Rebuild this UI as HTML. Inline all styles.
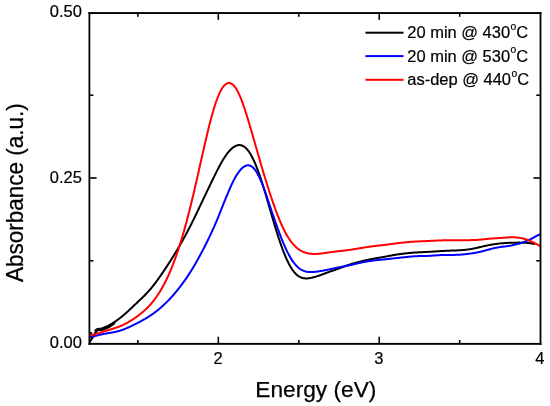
<!DOCTYPE html><html><head><meta charset="utf-8"><style>html,body{margin:0;padding:0;background:#fff;width:550px;height:406px;overflow:hidden}svg{display:block}</style></head><body><svg width="550" height="406" viewBox="0 0 550 406"><clipPath id="c"><rect x="89" y="12" width="453" height="333"/></clipPath><g clip-path="url(#c)" fill="none" stroke-width="2.00" stroke-linejoin="round" stroke-linecap="round"><path stroke="#000000" d="M98.00,329.88 L98.50,329.69 L99.00,329.51 L99.50,329.33 L100.00,329.14 L100.50,328.96 L101.00,328.77 L101.50,328.59 L102.00,328.40 L102.50,328.21 L103.00,328.02 L103.50,327.82 L104.00,327.62 L104.50,327.42 L105.00,327.21 L105.50,326.99 L106.00,326.77 L106.50,326.55 L107.00,326.31 L107.50,326.08 L108.00,325.83 L108.50,325.58 L109.00,325.32 L109.50,325.05 L110.00,324.78 L110.50,324.50 L111.00,324.21 L111.50,323.92 L112.00,323.62 L112.50,323.31 L113.00,323.00 L113.50,322.68 L114.00,322.35 L114.50,322.02 L115.00,321.69 L115.50,321.35 L116.00,321.00 L116.50,320.65 L117.00,320.29 L117.50,319.93 L118.00,319.56 L118.50,319.19 L119.00,318.81 L119.50,318.43 L120.00,318.04 L120.50,317.65 L121.00,317.25 L121.50,316.85 L122.00,316.44 L122.50,316.03 L123.00,315.61 L123.50,315.19 L124.00,314.76 L124.50,314.33 L125.00,313.89 L125.50,313.45 L126.00,313.01 L126.50,312.56 L127.00,312.11 L127.50,311.65 L128.00,311.19 L128.50,310.73 L129.00,310.27 L129.50,309.81 L130.00,309.34 L130.50,308.87 L131.00,308.41 L131.50,307.94 L132.00,307.47 L132.50,306.99 L133.00,306.52 L133.50,306.05 L134.00,305.57 L134.50,305.10 L135.00,304.63 L135.50,304.15 L136.00,303.68 L136.50,303.20 L137.00,302.72 L137.50,302.25 L138.00,301.77 L138.50,301.30 L139.00,300.82 L139.50,300.34 L140.00,299.86 L140.50,299.39 L141.00,298.91 L141.50,298.42 L142.00,297.94 L142.50,297.45 L143.00,296.96 L143.50,296.47 L144.00,295.97 L144.50,295.47 L145.00,294.97 L145.50,294.45 L146.00,293.94 L146.50,293.41 L147.00,292.88 L147.50,292.35 L148.00,291.80 L148.50,291.26 L149.00,290.70 L149.50,290.13 L150.00,289.56 L150.50,288.98 L151.00,288.39 L151.50,287.80 L152.00,287.20 L152.50,286.58 L153.00,285.96 L153.50,285.34 L154.00,284.70 L154.50,284.06 L155.00,283.40 L155.50,282.74 L156.00,282.08 L156.50,281.40 L157.00,280.72 L157.50,280.03 L158.00,279.33 L158.50,278.63 L159.00,277.92 L159.50,277.21 L160.00,276.49 L160.50,275.77 L161.00,275.05 L161.50,274.32 L162.00,273.59 L162.50,272.86 L163.00,272.13 L163.50,271.39 L164.00,270.65 L164.50,269.91 L165.00,269.16 L165.50,268.42 L166.00,267.66 L166.50,266.91 L167.00,266.15 L167.50,265.38 L168.00,264.62 L168.50,263.85 L169.00,263.07 L169.50,262.29 L170.00,261.51 L170.50,260.73 L171.00,259.94 L171.50,259.14 L172.00,258.34 L172.50,257.54 L173.00,256.73 L173.50,255.92 L174.00,255.11 L174.50,254.29 L175.00,253.47 L175.50,252.64 L176.00,251.81 L176.50,250.98 L177.00,250.14 L177.50,249.29 L178.00,248.45 L178.50,247.60 L179.00,246.74 L179.50,245.88 L180.00,245.02 L180.50,244.16 L181.00,243.28 L181.50,242.41 L182.00,241.53 L182.50,240.64 L183.00,239.75 L183.50,238.86 L184.00,237.96 L184.50,237.05 L185.00,236.14 L185.50,235.22 L186.00,234.30 L186.50,233.37 L187.00,232.43 L187.50,231.48 L188.00,230.53 L188.50,229.57 L189.00,228.60 L189.50,227.63 L190.00,226.65 L190.50,225.67 L191.00,224.68 L191.50,223.68 L192.00,222.67 L192.50,221.67 L193.00,220.65 L193.50,219.64 L194.00,218.61 L194.50,217.59 L195.00,216.56 L195.50,215.53 L196.00,214.49 L196.50,213.45 L197.00,212.41 L197.50,211.37 L198.00,210.33 L198.50,209.28 L199.00,208.23 L199.50,207.18 L200.00,206.14 L200.50,205.09 L201.00,204.04 L201.50,202.99 L202.00,201.94 L202.50,200.89 L203.00,199.84 L203.50,198.79 L204.00,197.74 L204.50,196.69 L205.00,195.64 L205.50,194.59 L206.00,193.54 L206.50,192.49 L207.00,191.44 L207.50,190.40 L208.00,189.35 L208.50,188.30 L209.00,187.26 L209.50,186.21 L210.00,185.17 L210.50,184.13 L211.00,183.09 L211.50,182.05 L212.00,181.01 L212.50,179.98 L213.00,178.95 L213.50,177.92 L214.00,176.89 L214.50,175.87 L215.00,174.86 L215.50,173.85 L216.00,172.84 L216.50,171.85 L217.00,170.86 L217.50,169.88 L218.00,168.90 L218.50,167.94 L219.00,166.99 L219.50,166.05 L220.00,165.12 L220.50,164.21 L221.00,163.31 L221.50,162.42 L222.00,161.55 L222.50,160.70 L223.00,159.86 L223.50,159.04 L224.00,158.24 L224.50,157.46 L225.00,156.70 L225.50,155.96 L226.00,155.24 L226.50,154.54 L227.00,153.86 L227.50,153.21 L228.00,152.57 L228.50,151.96 L229.00,151.38 L229.50,150.81 L230.00,150.27 L230.50,149.75 L231.00,149.26 L231.50,148.79 L232.00,148.35 L232.50,147.93 L233.00,147.54 L233.50,147.17 L234.00,146.84 L234.50,146.53 L235.00,146.25 L235.50,145.99 L236.00,145.77 L236.50,145.58 L237.00,145.41 L237.50,145.28 L238.00,145.18 L238.50,145.11 L239.00,145.07 L239.50,145.07 L240.00,145.09 L240.50,145.16 L241.00,145.25 L241.50,145.38 L242.00,145.55 L242.50,145.75 L243.00,145.99 L243.50,146.26 L244.00,146.57 L244.50,146.92 L245.00,147.31 L245.50,147.74 L246.00,148.20 L246.50,148.71 L247.00,149.25 L247.50,149.83 L248.00,150.45 L248.50,151.11 L249.00,151.81 L249.50,152.55 L250.00,153.33 L250.50,154.14 L251.00,155.00 L251.50,155.89 L252.00,156.82 L252.50,157.79 L253.00,158.80 L253.50,159.84 L254.00,160.92 L254.50,162.03 L255.00,163.18 L255.50,164.36 L256.00,165.57 L256.50,166.81 L257.00,168.09 L257.50,169.39 L258.00,170.73 L258.50,172.09 L259.00,173.48 L259.50,174.90 L260.00,176.35 L260.50,177.83 L261.00,179.33 L261.50,180.85 L262.00,182.40 L262.50,183.97 L263.00,185.57 L263.50,187.19 L264.00,188.82 L264.50,190.48 L265.00,192.15 L265.50,193.83 L266.00,195.53 L266.50,197.24 L267.00,198.96 L267.50,200.68 L268.00,202.41 L268.50,204.15 L269.00,205.89 L269.50,207.62 L270.00,209.36 L270.50,211.09 L271.00,212.82 L271.50,214.54 L272.00,216.25 L272.50,217.96 L273.00,219.65 L273.50,221.34 L274.00,223.01 L274.50,224.67 L275.00,226.32 L275.50,227.96 L276.00,229.58 L276.50,231.18 L277.00,232.77 L277.50,234.35 L278.00,235.91 L278.50,237.44 L279.00,238.96 L279.50,240.46 L280.00,241.94 L280.50,243.39 L281.00,244.83 L281.50,246.24 L282.00,247.62 L282.50,248.98 L283.00,250.32 L283.50,251.62 L284.00,252.90 L284.50,254.15 L285.00,255.38 L285.50,256.57 L286.00,257.73 L286.50,258.86 L287.00,259.96 L287.50,261.03 L288.00,262.06 L288.50,263.07 L289.00,264.04 L289.50,264.97 L290.00,265.88 L290.50,266.75 L291.00,267.58 L291.50,268.38 L292.00,269.15 L292.50,269.88 L293.00,270.57 L293.50,271.24 L294.00,271.87 L294.50,272.46 L295.00,273.02 L295.50,273.56 L296.00,274.06 L296.50,274.52 L297.00,274.96 L297.50,275.37 L298.00,275.75 L298.50,276.09 L299.00,276.41 L299.50,276.71 L300.00,276.97 L300.50,277.22 L301.00,277.43 L301.50,277.63 L302.00,277.79 L302.50,277.94 L303.00,278.07 L303.50,278.17 L304.00,278.26 L304.50,278.32 L305.00,278.37 L305.50,278.40 L306.00,278.42 L306.50,278.42 L307.00,278.40 L307.50,278.38 L308.00,278.34 L308.50,278.28 L309.00,278.22 L309.50,278.15 L310.00,278.07 L310.50,277.98 L311.00,277.88 L311.50,277.78 L312.00,277.67 L312.50,277.56 L313.00,277.44 L313.50,277.31 L314.00,277.18 L314.50,277.04 L315.00,276.90 L315.50,276.75 L316.00,276.60 L316.50,276.45 L317.00,276.29 L317.50,276.12 L318.00,275.96 L318.50,275.79 L319.00,275.62 L319.50,275.44 L320.00,275.26 L320.50,275.09 L321.00,274.90 L321.50,274.72 L322.00,274.54 L322.50,274.35 L323.00,274.16 L323.50,273.98 L324.00,273.79 L324.50,273.60 L325.00,273.41 L325.50,273.22 L326.00,273.04 L326.50,272.85 L327.00,272.66 L327.50,272.48 L328.00,272.29 L328.50,272.11 L329.00,271.93 L329.50,271.75 L330.00,271.57 L330.50,271.40 L331.00,271.22 L331.50,271.05 L332.00,270.88 L332.50,270.70 L333.00,270.53 L333.50,270.36 L334.00,270.19 L334.50,270.02 L335.00,269.85 L335.50,269.68 L336.00,269.51 L336.50,269.33 L337.00,269.16 L337.50,268.99 L338.00,268.81 L338.50,268.63 L339.00,268.45 L339.50,268.27 L340.00,268.08 L340.50,267.90 L341.00,267.71 L341.50,267.51 L342.00,267.32 L342.50,267.13 L343.00,266.94 L343.50,266.74 L344.00,266.55 L344.50,266.36 L345.00,266.17 L345.50,265.99 L346.00,265.80 L346.50,265.62 L347.00,265.44 L347.50,265.27 L348.00,265.10 L348.50,264.93 L349.00,264.76 L349.50,264.60 L350.00,264.44 L350.50,264.28 L351.00,264.12 L351.50,263.97 L352.00,263.82 L352.50,263.67 L353.00,263.52 L353.50,263.38 L354.00,263.23 L354.50,263.09 L355.00,262.95 L355.50,262.81 L356.00,262.68 L356.50,262.54 L357.00,262.41 L357.50,262.27 L358.00,262.14 L358.50,262.01 L359.00,261.88 L359.50,261.75 L360.00,261.63 L360.50,261.50 L361.00,261.37 L361.50,261.25 L362.00,261.13 L362.50,261.01 L363.00,260.89 L363.50,260.77 L364.00,260.65 L364.50,260.53 L365.00,260.42 L365.50,260.31 L366.00,260.20 L366.50,260.09 L367.00,259.98 L367.50,259.87 L368.00,259.77 L368.50,259.66 L369.00,259.56 L369.50,259.46 L370.00,259.36 L370.50,259.26 L371.00,259.16 L371.50,259.07 L372.00,258.97 L372.50,258.88 L373.00,258.79 L373.50,258.70 L374.00,258.61 L374.50,258.52 L375.00,258.43 L375.50,258.35 L376.00,258.26 L376.50,258.18 L377.00,258.10 L377.50,258.01 L378.00,257.93 L378.50,257.85 L379.00,257.77 L379.50,257.68 L380.00,257.60 L380.50,257.52 L381.00,257.43 L381.50,257.35 L382.00,257.26 L382.50,257.17 L383.00,257.08 L383.50,257.00 L384.00,256.90 L384.50,256.81 L385.00,256.72 L385.50,256.62 L386.00,256.53 L386.50,256.43 L387.00,256.33 L387.50,256.24 L388.00,256.14 L388.50,256.04 L389.00,255.94 L389.50,255.84 L390.00,255.74 L390.50,255.65 L391.00,255.55 L391.50,255.46 L392.00,255.36 L392.50,255.27 L393.00,255.18 L393.50,255.09 L394.00,255.00 L394.50,254.92 L395.00,254.83 L395.50,254.75 L396.00,254.67 L396.50,254.59 L397.00,254.52 L397.50,254.44 L398.00,254.37 L398.50,254.30 L399.00,254.22 L399.50,254.16 L400.00,254.09 L400.50,254.02 L401.00,253.95 L401.50,253.89 L402.00,253.82 L402.50,253.76 L403.00,253.70 L403.50,253.63 L404.00,253.57 L404.50,253.51 L405.00,253.45 L405.50,253.40 L406.00,253.34 L406.50,253.28 L407.00,253.23 L407.50,253.18 L408.00,253.13 L408.50,253.08 L409.00,253.03 L409.50,252.98 L410.00,252.93 L410.50,252.89 L411.00,252.84 L411.50,252.80 L412.00,252.76 L412.50,252.72 L413.00,252.68 L413.50,252.65 L414.00,252.61 L414.50,252.58 L415.00,252.54 L415.50,252.51 L416.00,252.48 L416.50,252.45 L417.00,252.42 L417.50,252.39 L418.00,252.36 L418.50,252.34 L419.00,252.31 L419.50,252.29 L420.00,252.27 L420.50,252.24 L421.00,252.22 L421.50,252.20 L422.00,252.18 L422.50,252.16 L423.00,252.13 L423.50,252.11 L424.00,252.09 L424.50,252.07 L425.00,252.05 L425.50,252.02 L426.00,252.00 L426.50,251.97 L427.00,251.95 L427.50,251.92 L428.00,251.90 L428.50,251.87 L429.00,251.84 L429.50,251.81 L430.00,251.78 L430.50,251.75 L431.00,251.73 L431.50,251.69 L432.00,251.66 L432.50,251.63 L433.00,251.60 L433.50,251.57 L434.00,251.54 L434.50,251.50 L435.00,251.47 L435.50,251.44 L436.00,251.40 L436.50,251.37 L437.00,251.34 L437.50,251.30 L438.00,251.27 L438.50,251.24 L439.00,251.20 L439.50,251.17 L440.00,251.14 L440.50,251.11 L441.00,251.08 L441.50,251.05 L442.00,251.02 L442.50,250.99 L443.00,250.96 L443.50,250.93 L444.00,250.91 L444.50,250.88 L445.00,250.86 L445.50,250.83 L446.00,250.81 L446.50,250.78 L447.00,250.76 L447.50,250.74 L448.00,250.72 L448.50,250.70 L449.00,250.68 L449.50,250.66 L450.00,250.64 L450.50,250.62 L451.00,250.60 L451.50,250.58 L452.00,250.57 L452.50,250.55 L453.00,250.53 L453.50,250.51 L454.00,250.50 L454.50,250.48 L455.00,250.46 L455.50,250.44 L456.00,250.42 L456.50,250.40 L457.00,250.38 L457.50,250.36 L458.00,250.34 L458.50,250.31 L459.00,250.29 L459.50,250.26 L460.00,250.23 L460.50,250.21 L461.00,250.17 L461.50,250.14 L462.00,250.11 L462.50,250.07 L463.00,250.03 L463.50,249.99 L464.00,249.95 L464.50,249.90 L465.00,249.85 L465.50,249.80 L466.00,249.75 L466.50,249.69 L467.00,249.63 L467.50,249.56 L468.00,249.50 L468.50,249.43 L469.00,249.36 L469.50,249.28 L470.00,249.20 L470.50,249.12 L471.00,249.04 L471.50,248.95 L472.00,248.86 L472.50,248.77 L473.00,248.67 L473.50,248.57 L474.00,248.47 L474.50,248.36 L475.00,248.25 L475.50,248.14 L476.00,248.03 L476.50,247.92 L477.00,247.80 L477.50,247.68 L478.00,247.57 L478.50,247.45 L479.00,247.33 L479.50,247.21 L480.00,247.09 L480.50,246.97 L481.00,246.85 L481.50,246.73 L482.00,246.62 L482.50,246.50 L483.00,246.39 L483.50,246.27 L484.00,246.16 L484.50,246.05 L485.00,245.94 L485.50,245.83 L486.00,245.72 L486.50,245.62 L487.00,245.52 L487.50,245.41 L488.00,245.31 L488.50,245.21 L489.00,245.12 L489.50,245.02 L490.00,244.93 L490.50,244.84 L491.00,244.75 L491.50,244.66 L492.00,244.57 L492.50,244.49 L493.00,244.41 L493.50,244.33 L494.00,244.25 L494.50,244.18 L495.00,244.10 L495.50,244.03 L496.00,243.96 L496.50,243.89 L497.00,243.83 L497.50,243.77 L498.00,243.71 L498.50,243.65 L499.00,243.59 L499.50,243.54 L500.00,243.49 L500.50,243.44 L501.00,243.39 L501.50,243.34 L502.00,243.30 L502.50,243.26 L503.00,243.22 L503.50,243.18 L504.00,243.14 L504.50,243.10 L505.00,243.07 L505.50,243.04 L506.00,243.00 L506.50,242.97 L507.00,242.94 L507.50,242.92 L508.00,242.89 L508.50,242.87 L509.00,242.84 L509.50,242.82 L510.00,242.80 L510.50,242.78 L511.00,242.76 L511.50,242.75 L512.00,242.73 L512.50,242.72 L513.00,242.70 L513.50,242.69 L514.00,242.68 L514.50,242.67 L515.00,242.66 L515.50,242.65 L516.00,242.64 L516.50,242.64 L517.00,242.63 L517.50,242.63 L518.00,242.63 L518.50,242.62 L519.00,242.62 L519.50,242.62 L520.00,242.62 L520.50,242.63 L521.00,242.63 L521.50,242.64 L522.00,242.65 L522.50,242.66 L523.00,242.67 L523.50,242.69 L524.00,242.71 L524.50,242.73 L525.00,242.75 L525.50,242.78 L526.00,242.81 L526.50,242.84 L527.00,242.88 L527.50,242.93 L528.00,242.97 L528.50,243.03 L529.00,243.08 L529.50,243.14 L530.00,243.21 L530.50,243.28 L531.00,243.35 L531.50,243.43 L532.00,243.50 L532.50,243.58 L533.00,243.67 L533.50,243.75 L534.00,243.83 L534.40,243.90"/><path stroke="#000000" d="M89.9,341.8 L91.5,339.3 L93.5,336.4 L95.2,332.8 L97,330.6 L99,329.6"/><path stroke="#000000" stroke-width="3.0" d="M95.8,330.6 L97.5,329.6 L99.3,329.3 L101.5,329.4 L103.2,329.1 L105,328.4 L106.8,327.6 L108.6,326.7 L110.4,325.6 L112.2,324.4 L114,323.1"/><ellipse cx="91" cy="333" rx="1.3" ry="1" fill="#000" stroke="none"/><path stroke="#0000ff" d="M89.20,337.43 L89.70,337.31 L90.20,337.19 L90.70,337.07 L91.20,336.95 L91.70,336.83 L92.20,336.71 L92.70,336.59 L93.20,336.47 L93.70,336.35 L94.20,336.23 L94.70,336.10 L95.20,335.98 L95.70,335.86 L96.20,335.73 L96.70,335.61 L97.20,335.48 L97.70,335.35 L98.20,335.22 L98.70,335.10 L99.20,334.97 L99.70,334.85 L100.20,334.73 L100.70,334.61 L101.20,334.50 L101.70,334.38 L102.20,334.27 L102.70,334.17 L103.20,334.06 L103.70,333.96 L104.20,333.86 L104.70,333.76 L105.20,333.67 L105.70,333.58 L106.20,333.49 L106.70,333.41 L107.20,333.32 L107.70,333.24 L108.20,333.16 L108.70,333.08 L109.20,332.99 L109.70,332.91 L110.20,332.83 L110.70,332.75 L111.20,332.66 L111.70,332.58 L112.20,332.49 L112.70,332.40 L113.20,332.31 L113.70,332.21 L114.20,332.11 L114.70,332.01 L115.20,331.91 L115.70,331.80 L116.20,331.69 L116.70,331.57 L117.20,331.45 L117.70,331.32 L118.20,331.19 L118.70,331.06 L119.20,330.91 L119.70,330.77 L120.20,330.62 L120.70,330.46 L121.20,330.30 L121.70,330.13 L122.20,329.96 L122.70,329.78 L123.20,329.60 L123.70,329.41 L124.20,329.22 L124.70,329.03 L125.20,328.83 L125.70,328.62 L126.20,328.41 L126.70,328.20 L127.20,327.98 L127.70,327.76 L128.20,327.54 L128.70,327.32 L129.20,327.09 L129.70,326.86 L130.20,326.63 L130.70,326.39 L131.20,326.16 L131.70,325.92 L132.20,325.68 L132.70,325.43 L133.20,325.19 L133.70,324.94 L134.20,324.69 L134.70,324.44 L135.20,324.19 L135.70,323.93 L136.20,323.68 L136.70,323.42 L137.20,323.16 L137.70,322.90 L138.20,322.63 L138.70,322.37 L139.20,322.10 L139.70,321.84 L140.20,321.57 L140.70,321.30 L141.20,321.03 L141.70,320.76 L142.20,320.49 L142.70,320.21 L143.20,319.93 L143.70,319.65 L144.20,319.37 L144.70,319.08 L145.20,318.80 L145.70,318.50 L146.20,318.21 L146.70,317.91 L147.20,317.60 L147.70,317.29 L148.20,316.98 L148.70,316.67 L149.20,316.35 L149.70,316.02 L150.20,315.69 L150.70,315.36 L151.20,315.02 L151.70,314.68 L152.20,314.34 L152.70,313.99 L153.20,313.63 L153.70,313.27 L154.20,312.91 L154.70,312.54 L155.20,312.17 L155.70,311.79 L156.20,311.40 L156.70,311.02 L157.20,310.62 L157.70,310.22 L158.20,309.82 L158.70,309.41 L159.20,309.00 L159.70,308.58 L160.20,308.15 L160.70,307.72 L161.20,307.29 L161.70,306.85 L162.20,306.40 L162.70,305.95 L163.20,305.49 L163.70,305.03 L164.20,304.56 L164.70,304.09 L165.20,303.61 L165.70,303.12 L166.20,302.63 L166.70,302.14 L167.20,301.63 L167.70,301.13 L168.20,300.61 L168.70,300.09 L169.20,299.57 L169.70,299.04 L170.20,298.50 L170.70,297.96 L171.20,297.41 L171.70,296.86 L172.20,296.30 L172.70,295.73 L173.20,295.16 L173.70,294.58 L174.20,294.00 L174.70,293.42 L175.20,292.82 L175.70,292.22 L176.20,291.62 L176.70,291.01 L177.20,290.40 L177.70,289.78 L178.20,289.15 L178.70,288.52 L179.20,287.89 L179.70,287.25 L180.20,286.60 L180.70,285.95 L181.20,285.29 L181.70,284.62 L182.20,283.95 L182.70,283.28 L183.20,282.59 L183.70,281.90 L184.20,281.21 L184.70,280.51 L185.20,279.80 L185.70,279.08 L186.20,278.36 L186.70,277.63 L187.20,276.90 L187.70,276.16 L188.20,275.41 L188.70,274.65 L189.20,273.88 L189.70,273.11 L190.20,272.33 L190.70,271.54 L191.20,270.74 L191.70,269.94 L192.20,269.12 L192.70,268.30 L193.20,267.47 L193.70,266.64 L194.20,265.79 L194.70,264.94 L195.20,264.08 L195.70,263.21 L196.20,262.34 L196.70,261.46 L197.20,260.57 L197.70,259.67 L198.20,258.77 L198.70,257.86 L199.20,256.94 L199.70,256.02 L200.20,255.09 L200.70,254.15 L201.20,253.21 L201.70,252.27 L202.20,251.31 L202.70,250.36 L203.20,249.40 L203.70,248.43 L204.20,247.45 L204.70,246.48 L205.20,245.49 L205.70,244.50 L206.20,243.51 L206.70,242.50 L207.20,241.50 L207.70,240.48 L208.20,239.46 L208.70,238.43 L209.20,237.40 L209.70,236.36 L210.20,235.31 L210.70,234.25 L211.20,233.18 L211.70,232.10 L212.20,231.01 L212.70,229.91 L213.20,228.80 L213.70,227.68 L214.20,226.55 L214.70,225.41 L215.20,224.26 L215.70,223.10 L216.20,221.92 L216.70,220.74 L217.20,219.55 L217.70,218.35 L218.20,217.14 L218.70,215.93 L219.20,214.70 L219.70,213.47 L220.20,212.23 L220.70,210.99 L221.20,209.74 L221.70,208.49 L222.20,207.23 L222.70,205.98 L223.20,204.72 L223.70,203.46 L224.20,202.21 L224.70,200.95 L225.20,199.71 L225.70,198.46 L226.20,197.23 L226.70,196.00 L227.20,194.78 L227.70,193.57 L228.20,192.37 L228.70,191.19 L229.20,190.02 L229.70,188.87 L230.20,187.73 L230.70,186.61 L231.20,185.51 L231.70,184.44 L232.20,183.38 L232.70,182.35 L233.20,181.34 L233.70,180.36 L234.20,179.40 L234.70,178.47 L235.20,177.57 L235.70,176.69 L236.20,175.85 L236.70,175.03 L237.20,174.24 L237.70,173.49 L238.20,172.76 L238.70,172.06 L239.20,171.40 L239.70,170.76 L240.20,170.16 L240.70,169.59 L241.20,169.06 L241.70,168.55 L242.20,168.08 L242.70,167.64 L243.20,167.24 L243.70,166.87 L244.20,166.54 L244.70,166.25 L245.20,165.99 L245.70,165.78 L246.20,165.60 L246.70,165.46 L247.20,165.37 L247.70,165.32 L248.20,165.31 L248.70,165.34 L249.20,165.42 L249.70,165.55 L250.20,165.72 L250.70,165.94 L251.20,166.20 L251.70,166.51 L252.20,166.87 L252.70,167.28 L253.20,167.74 L253.70,168.24 L254.20,168.80 L254.70,169.40 L255.20,170.05 L255.70,170.75 L256.20,171.50 L256.70,172.30 L257.20,173.15 L257.70,174.04 L258.20,174.98 L258.70,175.96 L259.20,176.99 L259.70,178.05 L260.20,179.16 L260.70,180.31 L261.20,181.50 L261.70,182.72 L262.20,183.97 L262.70,185.26 L263.20,186.58 L263.70,187.92 L264.20,189.29 L264.70,190.68 L265.20,192.09 L265.70,193.51 L266.20,194.95 L266.70,196.41 L267.20,197.87 L267.70,199.35 L268.20,200.83 L268.70,202.32 L269.20,203.81 L269.70,205.30 L270.20,206.79 L270.70,208.28 L271.20,209.76 L271.70,211.25 L272.20,212.72 L272.70,214.20 L273.20,215.66 L273.70,217.12 L274.20,218.58 L274.70,220.02 L275.20,221.46 L275.70,222.88 L276.20,224.30 L276.70,225.70 L277.20,227.10 L277.70,228.48 L278.20,229.85 L278.70,231.20 L279.20,232.55 L279.70,233.87 L280.20,235.19 L280.70,236.48 L281.20,237.76 L281.70,239.02 L282.20,240.27 L282.70,241.49 L283.20,242.70 L283.70,243.89 L284.20,245.05 L284.70,246.20 L285.20,247.32 L285.70,248.42 L286.20,249.50 L286.70,250.56 L287.20,251.58 L287.70,252.59 L288.20,253.56 L288.70,254.52 L289.20,255.44 L289.70,256.33 L290.20,257.20 L290.70,258.04 L291.20,258.86 L291.70,259.64 L292.20,260.40 L292.70,261.13 L293.20,261.84 L293.70,262.52 L294.20,263.17 L294.70,263.79 L295.20,264.39 L295.70,264.96 L296.20,265.50 L296.70,266.02 L297.20,266.52 L297.70,266.99 L298.20,267.43 L298.70,267.85 L299.20,268.25 L299.70,268.63 L300.20,268.98 L300.70,269.31 L301.20,269.62 L301.70,269.90 L302.20,270.17 L302.70,270.41 L303.20,270.64 L303.70,270.85 L304.20,271.03 L304.70,271.20 L305.20,271.36 L305.70,271.49 L306.20,271.61 L306.70,271.72 L307.20,271.81 L307.70,271.89 L308.20,271.95 L308.70,272.00 L309.20,272.05 L309.70,272.07 L310.20,272.09 L310.70,272.10 L311.20,272.10 L311.70,272.09 L312.20,272.08 L312.70,272.05 L313.20,272.02 L313.70,271.98 L314.20,271.94 L314.70,271.88 L315.20,271.83 L315.70,271.77 L316.20,271.70 L316.70,271.64 L317.20,271.56 L317.70,271.49 L318.20,271.42 L318.70,271.34 L319.20,271.26 L319.70,271.18 L320.20,271.10 L320.70,271.02 L321.20,270.93 L321.70,270.85 L322.20,270.76 L322.70,270.67 L323.20,270.58 L323.70,270.49 L324.20,270.40 L324.70,270.31 L325.20,270.21 L325.70,270.11 L326.20,270.02 L326.70,269.92 L327.20,269.82 L327.70,269.71 L328.20,269.61 L328.70,269.51 L329.20,269.40 L329.70,269.29 L330.20,269.18 L330.70,269.08 L331.20,268.97 L331.70,268.85 L332.20,268.74 L332.70,268.63 L333.20,268.52 L333.70,268.41 L334.20,268.30 L334.70,268.19 L335.20,268.08 L335.70,267.97 L336.20,267.86 L336.70,267.75 L337.20,267.65 L337.70,267.55 L338.20,267.44 L338.70,267.35 L339.20,267.25 L339.70,267.15 L340.20,267.06 L340.70,266.97 L341.20,266.88 L341.70,266.80 L342.20,266.71 L342.70,266.63 L343.20,266.54 L343.70,266.45 L344.20,266.37 L344.70,266.28 L345.20,266.18 L345.70,266.09 L346.20,265.99 L346.70,265.89 L347.20,265.79 L347.70,265.69 L348.20,265.58 L348.70,265.47 L349.20,265.36 L349.70,265.25 L350.20,265.14 L350.70,265.03 L351.20,264.91 L351.70,264.79 L352.20,264.68 L352.70,264.56 L353.20,264.44 L353.70,264.32 L354.20,264.20 L354.70,264.08 L355.20,263.96 L355.70,263.84 L356.20,263.73 L356.70,263.61 L357.20,263.49 L357.70,263.37 L358.20,263.26 L358.70,263.14 L359.20,263.03 L359.70,262.91 L360.20,262.80 L360.70,262.69 L361.20,262.59 L361.70,262.48 L362.20,262.38 L362.70,262.27 L363.20,262.18 L363.70,262.08 L364.20,261.98 L364.70,261.89 L365.20,261.80 L365.70,261.71 L366.20,261.62 L366.70,261.53 L367.20,261.45 L367.70,261.37 L368.20,261.29 L368.70,261.21 L369.20,261.13 L369.70,261.05 L370.20,260.98 L370.70,260.91 L371.20,260.84 L371.70,260.77 L372.20,260.70 L372.70,260.63 L373.20,260.57 L373.70,260.50 L374.20,260.44 L374.70,260.38 L375.20,260.32 L375.70,260.26 L376.20,260.20 L376.70,260.14 L377.20,260.09 L377.70,260.03 L378.20,259.98 L378.70,259.93 L379.20,259.88 L379.70,259.83 L380.20,259.78 L380.70,259.73 L381.20,259.68 L381.70,259.64 L382.20,259.59 L382.70,259.54 L383.20,259.49 L383.70,259.45 L384.20,259.40 L384.70,259.35 L385.20,259.30 L385.70,259.25 L386.20,259.20 L386.70,259.15 L387.20,259.10 L387.70,259.04 L388.20,258.99 L388.70,258.93 L389.20,258.88 L389.70,258.83 L390.20,258.77 L390.70,258.72 L391.20,258.66 L391.70,258.60 L392.20,258.55 L392.70,258.49 L393.20,258.44 L393.70,258.38 L394.20,258.32 L394.70,258.27 L395.20,258.21 L395.70,258.16 L396.20,258.10 L396.70,258.04 L397.20,257.99 L397.70,257.93 L398.20,257.88 L398.70,257.82 L399.20,257.77 L399.70,257.71 L400.20,257.66 L400.70,257.60 L401.20,257.55 L401.70,257.50 L402.20,257.44 L402.70,257.39 L403.20,257.34 L403.70,257.29 L404.20,257.23 L404.70,257.18 L405.20,257.13 L405.70,257.08 L406.20,257.03 L406.70,256.98 L407.20,256.93 L407.70,256.88 L408.20,256.84 L408.70,256.79 L409.20,256.74 L409.70,256.70 L410.20,256.65 L410.70,256.61 L411.20,256.56 L411.70,256.52 L412.20,256.48 L412.70,256.44 L413.20,256.40 L413.70,256.36 L414.20,256.33 L414.70,256.29 L415.20,256.26 L415.70,256.23 L416.20,256.20 L416.70,256.18 L417.20,256.15 L417.70,256.13 L418.20,256.12 L418.70,256.10 L419.20,256.09 L419.70,256.08 L420.20,256.07 L420.70,256.06 L421.20,256.05 L421.70,256.05 L422.20,256.04 L422.70,256.04 L423.20,256.03 L423.70,256.03 L424.20,256.02 L424.70,256.01 L425.20,256.00 L425.70,255.98 L426.20,255.97 L426.70,255.95 L427.20,255.93 L427.70,255.91 L428.20,255.88 L428.70,255.86 L429.20,255.83 L429.70,255.81 L430.20,255.78 L430.70,255.75 L431.20,255.72 L431.70,255.68 L432.20,255.65 L432.70,255.62 L433.20,255.58 L433.70,255.55 L434.20,255.51 L434.70,255.47 L435.20,255.44 L435.70,255.40 L436.20,255.37 L436.70,255.33 L437.20,255.30 L437.70,255.26 L438.20,255.23 L438.70,255.20 L439.20,255.17 L439.70,255.14 L440.20,255.12 L440.70,255.09 L441.20,255.07 L441.70,255.05 L442.20,255.04 L442.70,255.02 L443.20,255.01 L443.70,255.00 L444.20,254.99 L444.70,254.98 L445.20,254.98 L445.70,254.97 L446.20,254.97 L446.70,254.97 L447.20,254.97 L447.70,254.96 L448.20,254.96 L448.70,254.96 L449.20,254.96 L449.70,254.96 L450.20,254.96 L450.70,254.95 L451.20,254.95 L451.70,254.95 L452.20,254.94 L452.70,254.93 L453.20,254.92 L453.70,254.92 L454.20,254.91 L454.70,254.89 L455.20,254.88 L455.70,254.86 L456.20,254.85 L456.70,254.83 L457.20,254.81 L457.70,254.79 L458.20,254.76 L458.70,254.73 L459.20,254.71 L459.70,254.68 L460.20,254.64 L460.70,254.61 L461.20,254.57 L461.70,254.53 L462.20,254.49 L462.70,254.45 L463.20,254.40 L463.70,254.36 L464.20,254.31 L464.70,254.26 L465.20,254.21 L465.70,254.15 L466.20,254.10 L466.70,254.04 L467.20,253.98 L467.70,253.92 L468.20,253.86 L468.70,253.80 L469.20,253.74 L469.70,253.67 L470.20,253.60 L470.70,253.53 L471.20,253.46 L471.70,253.38 L472.20,253.31 L472.70,253.23 L473.20,253.15 L473.70,253.07 L474.20,252.98 L474.70,252.90 L475.20,252.81 L475.70,252.72 L476.20,252.63 L476.70,252.53 L477.20,252.44 L477.70,252.34 L478.20,252.24 L478.70,252.13 L479.20,252.02 L479.70,251.91 L480.20,251.80 L480.70,251.69 L481.20,251.57 L481.70,251.45 L482.20,251.32 L482.70,251.19 L483.20,251.06 L483.70,250.93 L484.20,250.80 L484.70,250.66 L485.20,250.53 L485.70,250.39 L486.20,250.25 L486.70,250.11 L487.20,249.97 L487.70,249.84 L488.20,249.70 L488.70,249.56 L489.20,249.43 L489.70,249.29 L490.20,249.16 L490.70,249.03 L491.20,248.90 L491.70,248.77 L492.20,248.65 L492.70,248.53 L493.20,248.41 L493.70,248.29 L494.20,248.18 L494.70,248.07 L495.20,247.96 L495.70,247.85 L496.20,247.75 L496.70,247.65 L497.20,247.56 L497.70,247.47 L498.20,247.38 L498.70,247.29 L499.20,247.21 L499.70,247.14 L500.20,247.06 L500.70,246.99 L501.20,246.92 L501.70,246.86 L502.20,246.79 L502.70,246.73 L503.20,246.67 L503.70,246.61 L504.20,246.55 L504.70,246.50 L505.20,246.44 L505.70,246.38 L506.20,246.31 L506.70,246.25 L507.20,246.18 L507.70,246.11 L508.20,246.03 L508.70,245.95 L509.20,245.87 L509.70,245.79 L510.20,245.70 L510.70,245.61 L511.20,245.51 L511.70,245.41 L512.20,245.31 L512.70,245.21 L513.20,245.10 L513.70,244.99 L514.20,244.88 L514.70,244.76 L515.20,244.64 L515.70,244.52 L516.20,244.39 L516.70,244.27 L517.20,244.13 L517.70,244.00 L518.20,243.86 L518.70,243.71 L519.20,243.57 L519.70,243.42 L520.20,243.26 L520.70,243.11 L521.20,242.94 L521.70,242.78 L522.20,242.61 L522.70,242.44 L523.20,242.26 L523.70,242.08 L524.20,241.89 L524.70,241.70 L525.20,241.50 L525.70,241.30 L526.20,241.10 L526.70,240.89 L527.20,240.68 L527.70,240.46 L528.20,240.24 L528.70,240.01 L529.20,239.78 L529.70,239.54 L530.20,239.30 L530.70,239.05 L531.20,238.80 L531.70,238.55 L532.20,238.30 L532.70,238.04 L533.20,237.78 L533.70,237.52 L534.20,237.25 L534.70,236.99 L535.20,236.73 L535.70,236.47 L536.20,236.21 L536.70,235.95 L537.20,235.69 L537.70,235.43 L538.20,235.18 L538.70,234.92 L539.20,234.66 L539.70,234.40 L539.80,234.35"/><path stroke="#ff0000" d="M89.20,335.74 L89.70,335.61 L90.20,335.48 L90.70,335.35 L91.20,335.21 L91.70,335.08 L92.20,334.94 L92.70,334.81 L93.20,334.67 L93.70,334.54 L94.20,334.40 L94.70,334.26 L95.20,334.12 L95.70,333.98 L96.20,333.84 L96.70,333.69 L97.20,333.55 L97.70,333.40 L98.20,333.25 L98.70,333.10 L99.20,332.95 L99.70,332.80 L100.20,332.64 L100.70,332.49 L101.20,332.33 L101.70,332.18 L102.20,332.02 L102.70,331.87 L103.20,331.71 L103.70,331.55 L104.20,331.40 L104.70,331.24 L105.20,331.08 L105.70,330.93 L106.20,330.77 L106.70,330.62 L107.20,330.47 L107.70,330.31 L108.20,330.16 L108.70,330.01 L109.20,329.85 L109.70,329.70 L110.20,329.55 L110.70,329.40 L111.20,329.25 L111.70,329.09 L112.20,328.94 L112.70,328.79 L113.20,328.63 L113.70,328.47 L114.20,328.31 L114.70,328.15 L115.20,327.99 L115.70,327.82 L116.20,327.65 L116.70,327.48 L117.20,327.30 L117.70,327.12 L118.20,326.94 L118.70,326.75 L119.20,326.56 L119.70,326.36 L120.20,326.16 L120.70,325.96 L121.20,325.75 L121.70,325.53 L122.20,325.31 L122.70,325.09 L123.20,324.86 L123.70,324.62 L124.20,324.38 L124.70,324.13 L125.20,323.88 L125.70,323.62 L126.20,323.36 L126.70,323.09 L127.20,322.82 L127.70,322.54 L128.20,322.25 L128.70,321.97 L129.20,321.67 L129.70,321.37 L130.20,321.07 L130.70,320.76 L131.20,320.45 L131.70,320.13 L132.20,319.81 L132.70,319.48 L133.20,319.15 L133.70,318.81 L134.20,318.48 L134.70,318.13 L135.20,317.78 L135.70,317.43 L136.20,317.07 L136.70,316.71 L137.20,316.35 L137.70,315.98 L138.20,315.61 L138.70,315.23 L139.20,314.85 L139.70,314.47 L140.20,314.08 L140.70,313.69 L141.20,313.29 L141.70,312.89 L142.20,312.48 L142.70,312.06 L143.20,311.64 L143.70,311.21 L144.20,310.77 L144.70,310.32 L145.20,309.87 L145.70,309.40 L146.20,308.92 L146.70,308.44 L147.20,307.94 L147.70,307.44 L148.20,306.93 L148.70,306.40 L149.20,305.87 L149.70,305.33 L150.20,304.77 L150.70,304.21 L151.20,303.63 L151.70,303.05 L152.20,302.45 L152.70,301.84 L153.20,301.22 L153.70,300.58 L154.20,299.94 L154.70,299.28 L155.20,298.60 L155.70,297.92 L156.20,297.22 L156.70,296.50 L157.20,295.77 L157.70,295.03 L158.20,294.27 L158.70,293.50 L159.20,292.72 L159.70,291.92 L160.20,291.10 L160.70,290.27 L161.20,289.42 L161.70,288.56 L162.20,287.68 L162.70,286.79 L163.20,285.88 L163.70,284.95 L164.20,284.01 L164.70,283.05 L165.20,282.08 L165.70,281.09 L166.20,280.08 L166.70,279.05 L167.20,278.01 L167.70,276.95 L168.20,275.86 L168.70,274.76 L169.20,273.64 L169.70,272.50 L170.20,271.34 L170.70,270.16 L171.20,268.96 L171.70,267.74 L172.20,266.49 L172.70,265.22 L173.20,263.93 L173.70,262.62 L174.20,261.29 L174.70,259.93 L175.20,258.56 L175.70,257.16 L176.20,255.74 L176.70,254.29 L177.20,252.83 L177.70,251.34 L178.20,249.84 L178.70,248.31 L179.20,246.76 L179.70,245.20 L180.20,243.61 L180.70,242.00 L181.20,240.37 L181.70,238.72 L182.20,237.04 L182.70,235.35 L183.20,233.64 L183.70,231.91 L184.20,230.16 L184.70,228.38 L185.20,226.59 L185.70,224.77 L186.20,222.93 L186.70,221.08 L187.20,219.20 L187.70,217.30 L188.20,215.38 L188.70,213.44 L189.20,211.48 L189.70,209.51 L190.20,207.51 L190.70,205.49 L191.20,203.46 L191.70,201.41 L192.20,199.34 L192.70,197.25 L193.20,195.15 L193.70,193.04 L194.20,190.90 L194.70,188.76 L195.20,186.60 L195.70,184.43 L196.20,182.25 L196.70,180.06 L197.20,177.86 L197.70,175.65 L198.20,173.43 L198.70,171.21 L199.20,168.99 L199.70,166.76 L200.20,164.53 L200.70,162.30 L201.20,160.06 L201.70,157.84 L202.20,155.61 L202.70,153.39 L203.20,151.18 L203.70,148.97 L204.20,146.77 L204.70,144.59 L205.20,142.42 L205.70,140.26 L206.20,138.12 L206.70,136.00 L207.20,133.90 L207.70,131.82 L208.20,129.77 L208.70,127.74 L209.20,125.74 L209.70,123.77 L210.20,121.82 L210.70,119.92 L211.20,118.04 L211.70,116.21 L212.20,114.41 L212.70,112.65 L213.20,110.93 L213.70,109.25 L214.20,107.62 L214.70,106.03 L215.20,104.49 L215.70,102.99 L216.20,101.54 L216.70,100.15 L217.20,98.80 L217.70,97.50 L218.20,96.26 L218.70,95.07 L219.20,93.93 L219.70,92.85 L220.20,91.82 L220.70,90.84 L221.20,89.92 L221.70,89.06 L222.20,88.26 L222.70,87.51 L223.20,86.82 L223.70,86.19 L224.20,85.61 L224.70,85.09 L225.20,84.63 L225.70,84.23 L226.20,83.88 L226.70,83.59 L227.20,83.36 L227.70,83.19 L228.20,83.07 L228.70,83.00 L229.20,83.00 L229.70,83.05 L230.20,83.15 L230.70,83.31 L231.20,83.53 L231.70,83.80 L232.20,84.13 L232.70,84.52 L233.20,84.96 L233.70,85.46 L234.20,86.01 L234.70,86.62 L235.20,87.28 L235.70,88.00 L236.20,88.77 L236.70,89.60 L237.20,90.47 L237.70,91.40 L238.20,92.38 L238.70,93.41 L239.20,94.48 L239.70,95.60 L240.20,96.77 L240.70,97.98 L241.20,99.23 L241.70,100.52 L242.20,101.86 L242.70,103.22 L243.20,104.62 L243.70,106.06 L244.20,107.53 L244.70,109.02 L245.20,110.54 L245.70,112.09 L246.20,113.66 L246.70,115.25 L247.20,116.87 L247.70,118.50 L248.20,120.15 L248.70,121.81 L249.20,123.48 L249.70,125.17 L250.20,126.87 L250.70,128.58 L251.20,130.29 L251.70,132.02 L252.20,133.74 L252.70,135.48 L253.20,137.22 L253.70,138.96 L254.20,140.71 L254.70,142.46 L255.20,144.20 L255.70,145.95 L256.20,147.70 L256.70,149.45 L257.20,151.20 L257.70,152.94 L258.20,154.68 L258.70,156.42 L259.20,158.15 L259.70,159.88 L260.20,161.60 L260.70,163.32 L261.20,165.03 L261.70,166.73 L262.20,168.43 L262.70,170.11 L263.20,171.80 L263.70,173.47 L264.20,175.13 L264.70,176.79 L265.20,178.43 L265.70,180.06 L266.20,181.69 L266.70,183.30 L267.20,184.90 L267.70,186.49 L268.20,188.07 L268.70,189.64 L269.20,191.19 L269.70,192.73 L270.20,194.26 L270.70,195.77 L271.20,197.27 L271.70,198.76 L272.20,200.23 L272.70,201.69 L273.20,203.14 L273.70,204.57 L274.20,205.98 L274.70,207.38 L275.20,208.76 L275.70,210.13 L276.20,211.48 L276.70,212.81 L277.20,214.12 L277.70,215.41 L278.20,216.68 L278.70,217.94 L279.20,219.17 L279.70,220.39 L280.20,221.58 L280.70,222.75 L281.20,223.90 L281.70,225.02 L282.20,226.12 L282.70,227.20 L283.20,228.25 L283.70,229.28 L284.20,230.29 L284.70,231.27 L285.20,232.22 L285.70,233.16 L286.20,234.06 L286.70,234.94 L287.20,235.80 L287.70,236.63 L288.20,237.44 L288.70,238.22 L289.20,238.98 L289.70,239.72 L290.20,240.43 L290.70,241.11 L291.20,241.78 L291.70,242.42 L292.20,243.03 L292.70,243.63 L293.20,244.21 L293.70,244.76 L294.20,245.30 L294.70,245.81 L295.20,246.31 L295.70,246.78 L296.20,247.24 L296.70,247.68 L297.20,248.10 L297.70,248.50 L298.20,248.89 L298.70,249.25 L299.20,249.60 L299.70,249.94 L300.20,250.25 L300.70,250.56 L301.20,250.84 L301.70,251.11 L302.20,251.37 L302.70,251.61 L303.20,251.83 L303.70,252.05 L304.20,252.25 L304.70,252.43 L305.20,252.61 L305.70,252.77 L306.20,252.92 L306.70,253.05 L307.20,253.18 L307.70,253.30 L308.20,253.40 L308.70,253.49 L309.20,253.58 L309.70,253.65 L310.20,253.72 L310.70,253.78 L311.20,253.82 L311.70,253.86 L312.20,253.90 L312.70,253.92 L313.20,253.94 L313.70,253.95 L314.20,253.96 L314.70,253.96 L315.20,253.95 L315.70,253.94 L316.20,253.92 L316.70,253.90 L317.20,253.87 L317.70,253.84 L318.20,253.80 L318.70,253.76 L319.20,253.72 L319.70,253.67 L320.20,253.62 L320.70,253.57 L321.20,253.51 L321.70,253.45 L322.20,253.39 L322.70,253.33 L323.20,253.26 L323.70,253.19 L324.20,253.12 L324.70,253.05 L325.20,252.98 L325.70,252.90 L326.20,252.83 L326.70,252.75 L327.20,252.68 L327.70,252.60 L328.20,252.53 L328.70,252.45 L329.20,252.37 L329.70,252.30 L330.20,252.22 L330.70,252.15 L331.20,252.08 L331.70,252.01 L332.20,251.94 L332.70,251.87 L333.20,251.81 L333.70,251.74 L334.20,251.68 L334.70,251.62 L335.20,251.56 L335.70,251.50 L336.20,251.45 L336.70,251.39 L337.20,251.33 L337.70,251.28 L338.20,251.23 L338.70,251.17 L339.20,251.12 L339.70,251.07 L340.20,251.02 L340.70,250.96 L341.20,250.91 L341.70,250.86 L342.20,250.81 L342.70,250.75 L343.20,250.70 L343.70,250.65 L344.20,250.59 L344.70,250.53 L345.20,250.47 L345.70,250.41 L346.20,250.35 L346.70,250.28 L347.20,250.22 L347.70,250.15 L348.20,250.08 L348.70,250.01 L349.20,249.94 L349.70,249.87 L350.20,249.79 L350.70,249.72 L351.20,249.64 L351.70,249.56 L352.20,249.49 L352.70,249.41 L353.20,249.33 L353.70,249.25 L354.20,249.17 L354.70,249.08 L355.20,249.00 L355.70,248.92 L356.20,248.84 L356.70,248.75 L357.20,248.67 L357.70,248.59 L358.20,248.50 L358.70,248.42 L359.20,248.33 L359.70,248.25 L360.20,248.17 L360.70,248.08 L361.20,248.00 L361.70,247.92 L362.20,247.83 L362.70,247.75 L363.20,247.67 L363.70,247.59 L364.20,247.51 L364.70,247.43 L365.20,247.35 L365.70,247.27 L366.20,247.19 L366.70,247.12 L367.20,247.04 L367.70,246.97 L368.20,246.89 L368.70,246.82 L369.20,246.75 L369.70,246.67 L370.20,246.60 L370.70,246.53 L371.20,246.47 L371.70,246.40 L372.20,246.33 L372.70,246.27 L373.20,246.20 L373.70,246.14 L374.20,246.07 L374.70,246.01 L375.20,245.95 L375.70,245.89 L376.20,245.83 L376.70,245.78 L377.20,245.72 L377.70,245.66 L378.20,245.61 L378.70,245.55 L379.20,245.50 L379.70,245.45 L380.20,245.39 L380.70,245.34 L381.20,245.29 L381.70,245.23 L382.20,245.18 L382.70,245.13 L383.20,245.07 L383.70,245.02 L384.20,244.96 L384.70,244.90 L385.20,244.85 L385.70,244.78 L386.20,244.72 L386.70,244.66 L387.20,244.59 L387.70,244.53 L388.20,244.46 L388.70,244.39 L389.20,244.33 L389.70,244.26 L390.20,244.19 L390.70,244.12 L391.20,244.05 L391.70,243.98 L392.20,243.91 L392.70,243.84 L393.20,243.77 L393.70,243.70 L394.20,243.63 L394.70,243.57 L395.20,243.50 L395.70,243.44 L396.20,243.37 L396.70,243.31 L397.20,243.24 L397.70,243.18 L398.20,243.12 L398.70,243.06 L399.20,243.00 L399.70,242.94 L400.20,242.88 L400.70,242.82 L401.20,242.76 L401.70,242.71 L402.20,242.65 L402.70,242.60 L403.20,242.54 L403.70,242.49 L404.20,242.44 L404.70,242.39 L405.20,242.34 L405.70,242.29 L406.20,242.25 L406.70,242.20 L407.20,242.16 L407.70,242.11 L408.20,242.07 L408.70,242.03 L409.20,241.99 L409.70,241.95 L410.20,241.91 L410.70,241.87 L411.20,241.84 L411.70,241.80 L412.20,241.77 L412.70,241.74 L413.20,241.71 L413.70,241.67 L414.20,241.65 L414.70,241.62 L415.20,241.59 L415.70,241.56 L416.20,241.53 L416.70,241.51 L417.20,241.48 L417.70,241.46 L418.20,241.44 L418.70,241.41 L419.20,241.39 L419.70,241.37 L420.20,241.35 L420.70,241.33 L421.20,241.30 L421.70,241.28 L422.20,241.26 L422.70,241.24 L423.20,241.22 L423.70,241.20 L424.20,241.18 L424.70,241.15 L425.20,241.13 L425.70,241.11 L426.20,241.08 L426.70,241.06 L427.20,241.04 L427.70,241.01 L428.20,240.99 L428.70,240.96 L429.20,240.94 L429.70,240.91 L430.20,240.88 L430.70,240.86 L431.20,240.83 L431.70,240.81 L432.20,240.78 L432.70,240.76 L433.20,240.73 L433.70,240.71 L434.20,240.69 L434.70,240.66 L435.20,240.64 L435.70,240.62 L436.20,240.60 L436.70,240.57 L437.20,240.55 L437.70,240.53 L438.20,240.51 L438.70,240.49 L439.20,240.47 L439.70,240.45 L440.20,240.43 L440.70,240.41 L441.20,240.40 L441.70,240.38 L442.20,240.36 L442.70,240.34 L443.20,240.33 L443.70,240.31 L444.20,240.29 L444.70,240.28 L445.20,240.27 L445.70,240.25 L446.20,240.24 L446.70,240.23 L447.20,240.22 L447.70,240.21 L448.20,240.20 L448.70,240.19 L449.20,240.18 L449.70,240.18 L450.20,240.18 L450.70,240.17 L451.20,240.17 L451.70,240.17 L452.20,240.17 L452.70,240.17 L453.20,240.17 L453.70,240.17 L454.20,240.18 L454.70,240.18 L455.20,240.18 L455.70,240.18 L456.20,240.19 L456.70,240.19 L457.20,240.19 L457.70,240.19 L458.20,240.19 L458.70,240.19 L459.20,240.19 L459.70,240.18 L460.20,240.18 L460.70,240.18 L461.20,240.17 L461.70,240.17 L462.20,240.16 L462.70,240.16 L463.20,240.15 L463.70,240.15 L464.20,240.15 L464.70,240.14 L465.20,240.14 L465.70,240.14 L466.20,240.14 L466.70,240.14 L467.20,240.14 L467.70,240.14 L468.20,240.14 L468.70,240.14 L469.20,240.14 L469.70,240.14 L470.20,240.13 L470.70,240.13 L471.20,240.12 L471.70,240.11 L472.20,240.10 L472.70,240.09 L473.20,240.08 L473.70,240.06 L474.20,240.04 L474.70,240.02 L475.20,239.99 L475.70,239.96 L476.20,239.93 L476.70,239.90 L477.20,239.87 L477.70,239.83 L478.20,239.79 L478.70,239.76 L479.20,239.71 L479.70,239.67 L480.20,239.63 L480.70,239.58 L481.20,239.54 L481.70,239.49 L482.20,239.44 L482.70,239.39 L483.20,239.34 L483.70,239.29 L484.20,239.24 L484.70,239.19 L485.20,239.14 L485.70,239.09 L486.20,239.04 L486.70,238.99 L487.20,238.94 L487.70,238.89 L488.20,238.84 L488.70,238.79 L489.20,238.75 L489.70,238.70 L490.20,238.66 L490.70,238.61 L491.20,238.57 L491.70,238.53 L492.20,238.49 L492.70,238.45 L493.20,238.42 L493.70,238.38 L494.20,238.35 L494.70,238.31 L495.20,238.28 L495.70,238.25 L496.20,238.22 L496.70,238.19 L497.20,238.16 L497.70,238.13 L498.20,238.10 L498.70,238.08 L499.20,238.05 L499.70,238.03 L500.20,238.00 L500.70,237.97 L501.20,237.95 L501.70,237.92 L502.20,237.88 L502.70,237.85 L503.20,237.81 L503.70,237.77 L504.20,237.73 L504.70,237.69 L505.20,237.64 L505.70,237.60 L506.20,237.56 L506.70,237.52 L507.20,237.48 L507.70,237.44 L508.20,237.41 L508.70,237.38 L509.20,237.35 L509.70,237.33 L510.20,237.31 L510.70,237.29 L511.20,237.28 L511.70,237.27 L512.20,237.27 L512.70,237.27 L513.20,237.28 L513.70,237.29 L514.20,237.31 L514.70,237.34 L515.20,237.36 L515.70,237.40 L516.20,237.44 L516.70,237.48 L517.20,237.53 L517.70,237.59 L518.20,237.65 L518.70,237.72 L519.20,237.79 L519.70,237.87 L520.20,237.95 L520.70,238.04 L521.20,238.14 L521.70,238.24 L522.20,238.35 L522.70,238.46 L523.20,238.58 L523.70,238.71 L524.20,238.84 L524.70,238.98 L525.20,239.12 L525.70,239.27 L526.20,239.43 L526.70,239.60 L527.20,239.77 L527.70,239.94 L528.20,240.13 L528.70,240.32 L529.20,240.52 L529.70,240.72 L530.20,240.93 L530.70,241.15 L531.20,241.37 L531.70,241.60 L532.20,241.83 L532.70,242.07 L533.20,242.32 L533.70,242.57 L534.20,242.82 L534.70,243.08 L535.20,243.34 L535.70,243.61 L536.20,243.88 L536.70,244.15 L537.20,244.43 L537.70,244.71 L538.20,244.99 L538.70,245.27 L539.20,245.55 L539.70,245.83 L540.20,246.11 L540.40,246.23"/></g><g fill="#000"><rect x="88.5" y="12.1" width="453" height="1.9"/><rect x="88.5" y="342.9" width="453" height="1.9"/><rect x="88.5" y="12.1" width="1.8" height="332.7"/><rect x="539.6" y="12.1" width="1.8" height="332.7"/><rect x="137.07" y="340.00" width="1.6" height="3.20"/><rect x="137.07" y="13.8" width="1.6" height="3.00"/><rect x="217.52" y="336.70" width="1.6" height="6.50"/><rect x="217.52" y="13.8" width="1.6" height="6.00"/><rect x="297.97" y="340.00" width="1.6" height="3.20"/><rect x="297.97" y="13.8" width="1.6" height="3.00"/><rect x="378.42" y="336.70" width="1.6" height="6.50"/><rect x="378.42" y="13.8" width="1.6" height="6.00"/><rect x="458.87" y="340.00" width="1.6" height="3.20"/><rect x="458.87" y="13.8" width="1.6" height="3.00"/><rect x="90.1" y="260.00" width="3.30" height="1.6"/><rect x="536.30" y="260.00" width="3.50" height="1.6"/><rect x="90.1" y="177.20" width="6.50" height="1.6"/><rect x="533.40" y="177.20" width="6.40" height="1.6"/><rect x="90.1" y="94.40" width="3.30" height="1.6"/><rect x="536.30" y="94.40" width="3.50" height="1.6"/></g><g font-family='"Liberation Sans", Arial, Helvetica, sans-serif' font-size="15.8" fill="#000" stroke="#000" stroke-width="0.2"><text transform="translate(81.9,16.9) scale(1.045,1)" text-anchor="end">0.50</text><text transform="translate(81.9,182.9) scale(1.045,1)" text-anchor="end">0.25</text><text transform="translate(81.9,347.9) scale(1.045,1)" text-anchor="end">0.00</text><text transform="translate(218.02,364) scale(1.045,1)" text-anchor="middle">2</text><text transform="translate(378.92,364) scale(1.045,1)" text-anchor="middle">3</text><text transform="translate(539.82,364) scale(1.045,1)" text-anchor="middle">4</text></g><text transform="translate(255.3,397.2)" font-family='"Liberation Sans", Arial, Helvetica, sans-serif' font-size="22.7" stroke="#000" stroke-width="0.25">Energy (eV)</text><text transform="translate(22.6,282.0) rotate(-90) scale(1,1.07)" x="0" y="0" font-family='"Liberation Sans", Arial, Helvetica, sans-serif' font-size="22.5" stroke="#000" stroke-width="0.25">Absorbance (a.u.)</text><rect x="365.5" y="31.7" width="38" height="2" fill="#000000"/><text transform="translate(407.3,38.0) scale(1.03,1)" font-family='"Liberation Sans", Arial, Helvetica, sans-serif' font-size="16" stroke="#000" stroke-width="0.2">20 min @ 430<tspan font-size="10" dx="0.4" dy="-8.5">o</tspan><tspan dy="8.5">C</tspan></text><rect x="365.5" y="55.1" width="38" height="2" fill="#0000ff"/><text transform="translate(407.3,61.7) scale(1.03,1)" font-family='"Liberation Sans", Arial, Helvetica, sans-serif' font-size="16" stroke="#000" stroke-width="0.2">20 min @ 530<tspan font-size="10" dx="0.4" dy="-8.5">o</tspan><tspan dy="8.5">C</tspan></text><rect x="365.5" y="78.8" width="38" height="2" fill="#ff0000"/><text transform="translate(407.3,85.2) scale(1.03,1)" font-family='"Liberation Sans", Arial, Helvetica, sans-serif' font-size="16" stroke="#000" stroke-width="0.2">as-dep @ 440<tspan font-size="10" dx="0.4" dy="-8.5">o</tspan><tspan dy="8.5">C</tspan></text></svg></body></html>
